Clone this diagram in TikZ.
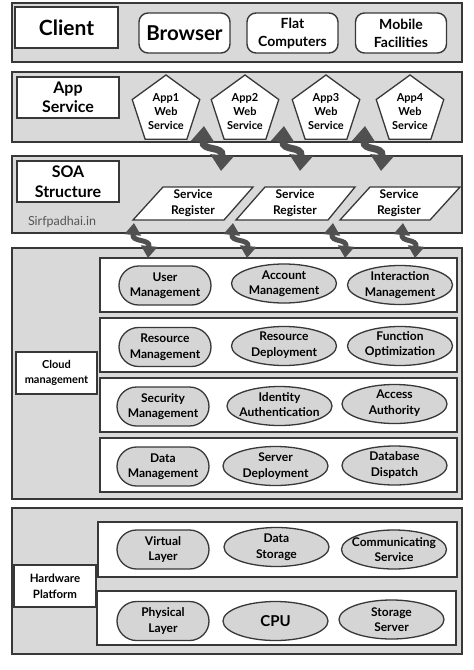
\documentclass[tikz,border=0pt]{standalone}
\usepackage{fontspec}
\setmainfont{Lato}
\usetikzlibrary{shapes.geometric,arrows.meta}
\definecolor{bandgray}{HTML}{D9D9D9}
\definecolor{ovalgray}{HTML}{D5D5D5}
\definecolor{edgec}{HTML}{383838}
\definecolor{arrowc}{HTML}{505050}
\definecolor{wmark}{HTML}{555555}
\begin{document}
\begin{tikzpicture}[x=1pt,y=-1pt,
  band/.style={draw=edgec,fill=bandgray,line width=1.6pt},
  rowbox/.style={draw=edgec,fill=white,line width=1.4pt},
  titlebox/.style={draw=edgec,fill=white,line width=1.4pt,font=\bfseries,align=center,inner sep=0pt},
  clientbox/.style={draw=edgec,fill=white,line width=1.4pt,rounded corners=9pt,minimum width=91pt,minimum height=40pt,inner sep=0pt,align=center,font=\bfseries},
  penta/.style={regular polygon,regular polygon sides=5,draw=edgec,fill=white,line width=1.3pt,minimum size=71pt,inner sep=0pt},
  ptext/.style={font=\bfseries\fontsize{11}{14}\selectfont,align=center,inner sep=0pt},
  reg/.style={draw=edgec,fill=white,line width=1.3pt},
  rtext/.style={font=\bfseries\fontsize{12}{16}\selectfont,align=center,inner sep=0pt},
  stadium/.style={draw=edgec,fill=ovalgray,line width=1.3pt,rounded corners=19.5pt,minimum width=92pt,minimum height=39pt,inner sep=0pt,align=center,font=\bfseries\fontsize{12}{15.5}\selectfont},
  oval/.style={ellipse,draw=edgec,fill=ovalgray,line width=1.3pt,minimum width=105pt,minimum height=39pt,inner sep=0pt},
  otext/.style={font=\bfseries\fontsize{12}{15.5}\selectfont,align=center,inner sep=0pt},
  bigarrow/.style={draw=arrowc,line width=7pt,{Triangle[width=23pt,length=16pt]}-{Triangle[width=23pt,length=16pt]}},
  smallarrow/.style={draw=arrowc,line width=5pt,{Triangle[width=16pt,length=12pt]}-{Triangle[width=16pt,length=12pt]}}
]
\useasboundingbox (0,0) rectangle (474,670);
\fill[white] (0,0) rectangle (474,670);

% ---------- Client ----------
\draw[band] (12,3) rectangle (462,62);
\node[titlebox,minimum width=103pt,minimum height=41pt,font=\bfseries\fontsize{21}{24}\selectfont] (client) at (66.5,27.5) {Client};
\node[clientbox,font=\bfseries\fontsize{20.5}{23}\selectfont] (browser) at (184.5,33) {Browser};
\node[clientbox,font=\bfseries\fontsize{14}{18}\selectfont] (flat) at (292.5,33) {Flat\\Computers};
\node[clientbox,font=\bfseries\fontsize{14}{18}\selectfont] (mobile) at (401,33) {Mobile\\Facilities};

% ---------- App Service ----------
\draw[band] (12,72) rectangle (462,142);
\node[titlebox,minimum width=102pt,minimum height=41pt,font=\bfseries\fontsize{16}{19.5}\selectfont] (appsvc) at (68,97.5) {App\\Service};
\node[penta] (p1) at (166,110.5) {};
\node[penta] (p2) at (245,110.5) {};
\node[penta] (p3) at (326,110.5) {};
\node[penta] (p4) at (410,110.5) {};
\node[ptext] (p1t) at (166,112) {App1\\Web\\Service};
\node[ptext] (p2t) at (245,112) {App2\\Web\\Service};
\node[ptext] (p3t) at (326,112) {App3\\Web\\Service};
\node[ptext] (p4t) at (410,112) {App4\\Web\\Service};

% ---------- SOA ----------
\draw[band] (12,156) rectangle (462,233);
\node[titlebox,minimum width=102pt,minimum height=41pt,font=\bfseries\fontsize{16}{19.5}\selectfont] (soa) at (68,181.5) {SOA\\Structure};
\node[font=\fontsize{12.5}{14}\selectfont,text=wmark,inner sep=0pt] (wm) at (62,222) {Sirfpadhai.in};
\draw[reg] (133,220) -- (163,187) -- (253,187) -- (224,220) -- cycle;
\draw[reg] (236,220) -- (265,187) -- (355,187) -- (328,220) -- cycle;
\draw[reg] (340,220) -- (370,187) -- (460,187) -- (430,220) -- cycle;
\node[rtext] (r1) at (193,203) {Service\\Register};
\node[rtext] (r2) at (295,203) {Service\\Register};
\node[rtext] (r3) at (399,203) {Service\\Register};

% ---------- Cloud management ----------
\draw[band] (12,248) rectangle (462,499);
\node[titlebox,minimum width=81pt,minimum height=42pt,font=\bfseries\fontsize{11}{15}\selectfont] (cloud) at (56.5,373) {Cloud\\management};
\draw[rowbox] (100,258) rectangle (457,312);
\draw[rowbox] (100,318) rectangle (457,372);
\draw[rowbox] (100,378) rectangle (457,432);
\draw[rowbox] (100,438) rectangle (457,492);

\node[stadium] (um) at (165,285.5) {User\\Management};
\node[oval] (am) at (284,283.5) {};
\node[otext] (amt) at (284,283.5) {Account\\Management};
\node[oval] (im) at (400,285) {};
\node[otext] (imt) at (400,285) {Interaction\\Management};

\node[stadium] (rm) at (165,347) {Resource\\Management};
\node[oval] (rd) at (284,346) {};
\node[otext] (rdt) at (284,345) {Resource\\Deployment};
\node[oval] (fo) at (400,346) {};
\node[otext] (fot) at (400,344.5) {Function\\Optimization};

\node[stadium] (sm) at (163,406.5) {Security\\Management};
\node[oval] (ia) at (279.5,406) {};
\node[otext] (iat) at (279.5,404.5) {Identity\\Authentication};
\node[oval] (aa) at (394.5,404) {};
\node[otext] (aat) at (394.5,403) {Access\\Authority};

\node[stadium] (dm) at (163,466.5) {Data\\Management};
\node[oval] (sd) at (275.5,466) {};
\node[otext] (sdt) at (275.5,466) {Server\\Deployment};
\node[oval] (dd) at (394.5,465.5) {};
\node[otext] (ddt) at (394.5,465) {Database\\Dispatch};

% ---------- Hardware Platform ----------
\draw[band] (12,508) rectangle (462,654);
\node[titlebox,minimum width=82pt,minimum height=42pt,font=\bfseries\fontsize{11.5}{16}\selectfont] (hw) at (55,586) {Hardware\\Platform};
\draw[rowbox] (98,522) rectangle (457,577);
\draw[rowbox] (97,591) rectangle (456,645);

\node[stadium] (vl) at (163,549.5) {Virtual\\Layer};
\node[oval] (ds) at (276.5,547) {};
\node[otext] (dst) at (276.5,547) {Data\\Storage};
\node[oval] (cs) at (394,549.5) {};
\node[otext] (cst) at (394,549.5) {Communicating\\Service};

\node[stadium] (pl) at (163,621) {Physical\\Layer};
\node[oval] (cpu) at (275.5,621) {};
\node[otext,font=\bfseries\fontsize{15}{17}\selectfont] (cput) at (275.5,621) {CPU};
\node[oval] (ss) at (391.5,619.5) {};
\node[otext] (sst) at (391.5,619.5) {Storage\\Server};

% ---------- arrows ----------
\coordinate (a1t) at (204,126); \coordinate (a1b) at (221,171);
\coordinate (a2t) at (284,126); \coordinate (a2b) at (300,171);
\coordinate (a3t) at (365,126); \coordinate (a3b) at (381,171);
\draw[bigarrow] (a1t) .. controls +(-2,26) and +(2,-26) .. (a1b);
\draw[bigarrow] (a2t) .. controls +(-2,26) and +(2,-26) .. (a2b);
\draw[bigarrow] (a3t) .. controls +(-2,26) and +(2,-26) .. (a3b);

\coordinate (b1t) at (134,223); \coordinate (b1b) at (148,258);
\coordinate (b2t) at (233,223); \coordinate (b2b) at (247,258);
\coordinate (b3t) at (333,223); \coordinate (b3b) at (345,258);
\coordinate (b4t) at (403,223); \coordinate (b4b) at (415,258);
\draw[smallarrow] (b1t) .. controls +(-2,20) and +(2,-20) .. (b1b);
\draw[smallarrow] (b2t) .. controls +(-2,20) and +(2,-20) .. (b2b);
\draw[smallarrow] (b3t) .. controls +(-2,20) and +(2,-20) .. (b3b);
\draw[smallarrow] (b4t) .. controls +(-2,20) and +(2,-20) .. (b4b);
\end{tikzpicture}
\end{document}
